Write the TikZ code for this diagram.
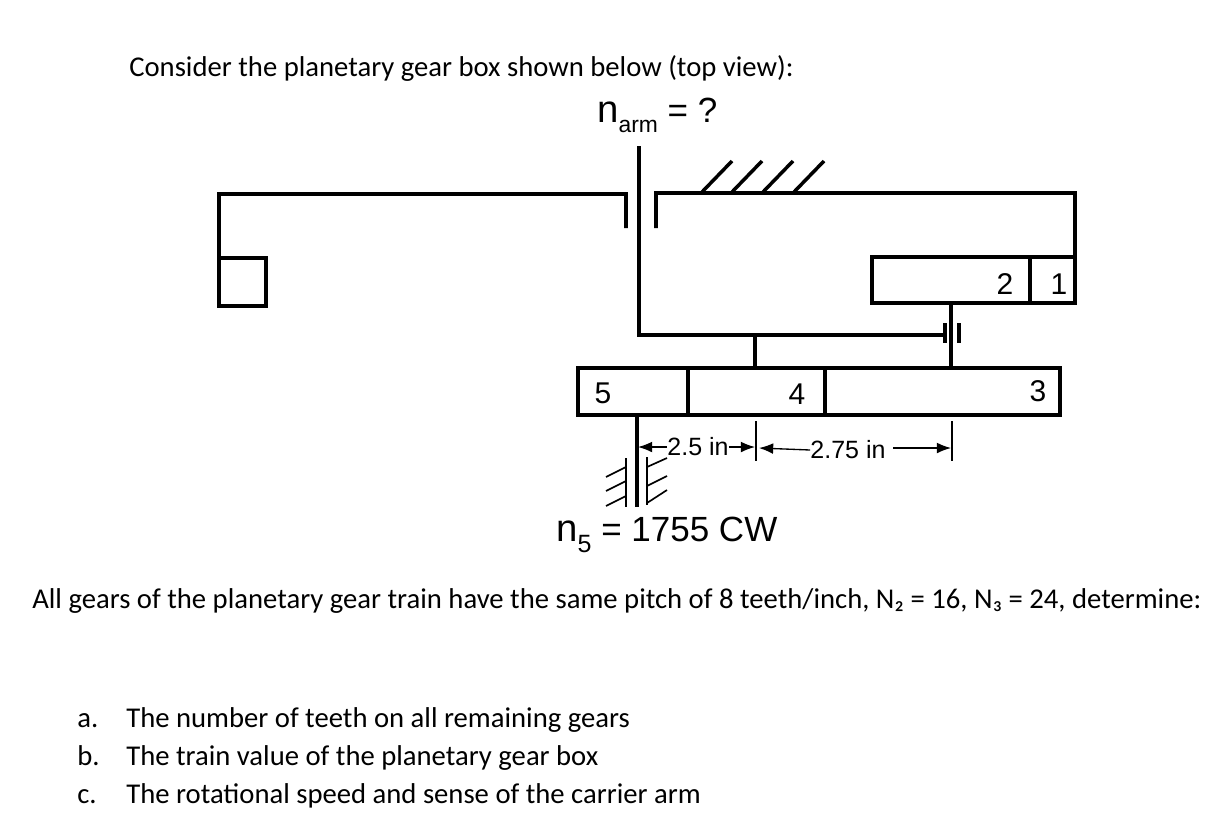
\documentclass[tikz,border=0pt]{standalone}
\usepackage{fontspec}
\usetikzlibrary{arrows.meta}
\setmainfont{Carlito}
\newfontfamily\figfont{Liberation Sans}
\tikzset{
  gearbox/.style={draw,line width=2.3pt,inner sep=0pt,outer sep=0pt},
  gearnum/.style={font=\figfont\fontsize{18}{20}\selectfont,inner sep=0pt},
  body/.style={font=\fontsize{17.2}{20}\selectfont,anchor=base west,inner sep=0pt},
  figtext/.style={font=\figfont\fontsize{21}{24}\selectfont,anchor=base west,inner sep=0pt},
  dimtext/.style={font=\figfont\fontsize{15}{17}\selectfont,inner sep=0pt},
  arm/.style={line width=2.2pt},
  shaft/.style={line width=1.9pt},
  hatch/.style={line width=2.1pt},
  thinhatch/.style={line width=1pt},
  dimline/.style={line width=0.8pt,-{Latex[length=8.5pt,width=6.5pt]}},
  tick/.style={line width=0.8pt}
}
\begin{document}
\begin{tikzpicture}[x=0.6pt,y=-0.6pt]
\useasboundingbox (0,0) rectangle (1212,816);
% text above and below the sketch
\node[body] (intro) at (129,76) {Consider the planetary gear box shown below (top view):};
\node[body] (task) at (32,608) {All gears of the planetary gear train have the same pitch of 8 teeth/inch, N₂ = 16, N₃ = 24, determine:};
\node[body] (la) at (77,727) {a.};
\node[body] (ta) at (126,727) {The number of teeth on all remaining gears};
\node[body] (lb) at (77,765) {b.};
\node[body] (tb) at (126,765) {The train value of the planetary gear box};
\node[body] (lc) at (77,803) {c.};
\node[body] (tc) at (126,803) {The rotational speed and sense of the carrier arm};
\node[figtext] (narm) at (597,122) {\fontsize{23}{24}\selectfont n\raisebox{-6pt}{\fontsize{13.7}{14}\selectfont arm}\fontsize{21}{24}\selectfont\ = ?};
\node[figtext] (nfive) at (556,541) {\fontsize{23}{24}\selectfont n\raisebox{-7pt}{\fontsize{15}{15}\selectfont 5}\fontsize{21}{24}\selectfont\ = 1755 CW};
% gears
\node[gearbox,minimum width=66pt,minimum height=28.2pt] (gfive) at (633,391.5) {};
\node[gearbox,minimum width=82.2pt,minimum height=28.2pt] (gfour) at (756.5,391.5) {};
\node[gearbox,minimum width=141pt,minimum height=28.2pt] (gthree) at (942.5,391.5) {};
\node[gearbox,minimum width=94.8pt,minimum height=27.6pt] (gtwo) at (951,280) {};
\node[gearbox,minimum width=27pt,minimum height=27.6pt] (gone) at (1052.5,280) {};
\node[gearbox,minimum width=28.2pt,minimum height=28.8pt] (gleft) at (242.5,282) {};
\node[gearnum] (lfive) at (603,393) {5};
\node[gearnum] (lfour) at (797,394) {4};
\node[gearnum] (lthree) at (1038,391) {3};
\node[gearnum] (ltwo) at (1005,284) {2};
\node[gearnum] (lone) at (1059,284) {1};
% carrier and housing
\draw[arm] (626,228) -- (626,194) -- (219,194) -- (gleft.north west);
\draw[arm] (656,228) -- (656,193) -- (1075,193) -- (gone.north east);
\draw[arm] (639,146) -- (639,335) -- (945,335);
\draw[arm] (755,335) -- (755,368);
\draw[shaft] (951,303) -- (951,368);
\draw[arm] (945,323) -- (945,343);
\draw[arm] (959,323) -- (959,343);
\foreach \x in {702,732,763,794}
  \draw[hatch] (\x,192) -- (\x+30,161);
% input shaft with bearing
\draw[arm] (637,415) -- (637,507);
\draw[thinhatch] (626,458) -- (626,507);
\draw[thinhatch] (647,457) -- (647,505);
\foreach \y in {467,481,496}
  \draw[thinhatch] (626,\y) -- (606,\y+10);
\draw[thinhatch] (647,467) -- (667,458);
\draw[thinhatch] (647,486) -- (667,476);
\draw[thinhatch] (647,503) -- (667,490);
% dimensions
\coordinate (dzero) at (638,447);
\coordinate (done) at (755,447);
\coordinate (dtwo) at (951,448);
\coordinate (dtwostart) at (759,448);
\coordinate (dtwoend) at (893,448);
\draw[tick] (756,421) -- (756,461);
\draw[tick] (952,421) -- (952,461);
\node[dimtext] (dimone) at (698,447) {2.5 in};
\node[dimtext] (dimtwo) at (848,450) {2.75 in};
\draw[dimline] (dimone.west) -- (dzero);
\draw[dimline] (dimone.east) -- (done);
\draw[dimline] (dimtwo.west) -- (dtwostart);
\draw[dimline] (dtwoend) -- (dtwo);
\end{tikzpicture}
\end{document}
